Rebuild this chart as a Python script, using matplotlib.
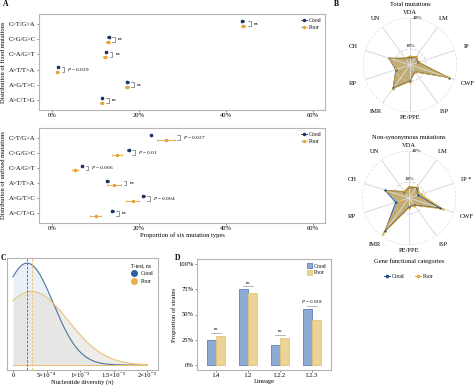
import numpy as np
import matplotlib
matplotlib.use("Agg")
import matplotlib.pyplot as plt
from matplotlib.lines import Line2D

plt.rcParams['font.family'] = ['Liberation Serif', 'DejaVu Serif']
plt.rcParams['mathtext.fontset'] = 'custom'
plt.rcParams['mathtext.rm'] = 'Liberation Serif'
plt.rcParams['mathtext.it'] = 'Liberation Serif:italic'

# ---------------- data ----------------
mut_types = ["C>T/G>A", "C>G/G>C", "C>A/G>T", "A>T/T>A", "A>G/T>C", "A>C/T>G"]
fixed_good = [43.8, 13.0, 12.4, 1.4, 17.3, 11.5]
fixed_good_err = [0.3, 0.3, 0.3, 0.2, 0.3, 0.3]
fixed_poor = [44.0, 12.9, 12.2, 1.2, 17.2, 11.4]
fixed_poor_err = [0.5, 0.4, 0.4, 0.3, 0.4, 0.4]
fixed_sig = ["ns", "ns", "ns", "$P$ = 0.029", "ns", "ns"]

unfixed_good = [22.8, 17.6, 6.9, 12.7, 21.0, 13.9]
unfixed_good_err = [0.3, 0.3, 0.2, 0.3, 0.3, 0.3]
unfixed_poor = [26.2, 15.0, 5.3, 14.3, 18.6, 10.0]
unfixed_poor_err = [2.0, 1.2, 0.7, 1.6, 1.5, 1.2]
unfixed_sig = ["$P$ = 0.027", "$P$ = 0.01", "$P$ = 0.006", "ns", "$P$ = 0.004", "ns"]

func_cats = ["VDA", "LM", "IP", "CWF", "ISP", "PE/PPE", "IMR", "RP", "CH", "UN"]
func_cats_ns = ["VDA", "LM", "IP *", "CWF", "ISP", "PE/PPE", "IMR", "RP", "CH", "UN"]
total_good = [2.5, 4.0, 3.0, 34.0, 2.5, 10.0, 22.0, 9.0, 16.0, 2.5]
total_poor = [3.0, 4.5, 3.5, 33.0, 3.0, 10.5, 23.0, 8.5, 15.5, 3.0]
nonsyn_good = [5.0, 7.0, 4.0, 26.0, 3.0, 3.5, 34.0, 8.0, 19.0, 2.0]
nonsyn_poor = [5.5, 7.5, 6.5, 29.0, 3.5, 4.0, 37.0, 4.0, 17.0, 2.5]

div_groups = ["Good", "Poor"]
div_mean = [0.21e-3, 0.28e-3]
div_sd = [0.39e-3, 0.54e-3]
div_ticks = [0, 5e-4, 1e-3, 1.5e-3, 2e-3]
div_ticklabels = ["0", "5×10⁻⁴", "1×10⁻³", "1.5×10⁻³", "2×10⁻³"]

lineages = ["L4", "L2", "L2.2", "L2.3"]
good_prop = [25.2, 74.8, 19.4, 55.0]
poor_prop = [29.0, 71.8, 27.0, 44.6]
lineage_sig = ["ns", "ns", "ns", "$P$ = 0.038"]

# ---------------- style ----------------
W, H = 474, 387
fig = plt.figure(figsize=(W / 100, H / 100), dpi=100)
NAVY = '#1d3461'
ORANGE = '#e8a43a'
SPINE = '#b5b5b5'
FS = 4.7


def rect(l, t, r, b):
    return [l / W, 1 - b / H, (r - l) / W, (b - t) / H]


def style_box(ax):
    for s in ax.spines.values():
        s.set_color(SPINE)
        s.set_linewidth(0.8)
    ax.tick_params(length=1.5, width=0.5, color='#555555', labelsize=FS, pad=1)


def panel_A(ax, good, gerr, poor, perr, sig, ylabel):
    y = np.arange(len(mut_types))
    off = 0.16
    ax.errorbar(good, y - off, xerr=gerr, fmt='o', color=NAVY, ms=1.6,
                elinewidth=0.6, capsize=1.0, capthick=0.5)
    ax.errorbar(poor, y + off, xerr=perr, fmt='o', color=ORANGE, ms=1.6,
                elinewidth=0.6, capsize=1.0, capthick=0.5)
    for i in range(len(mut_types)):
        xb = max(good[i] + gerr[i], poor[i] + perr[i]) + 1.2
        ax.plot([xb - 0.6, xb, xb, xb - 0.6], [i - off, i - off, i + off, i + off],
                color='#444444', lw=0.4)
        ax.text(xb + 0.7, i, sig[i], fontsize=3.8, va='center', ha='left')
    ax.set_yticks(y)
    ax.set_yticklabels(mut_types)
    ax.set_ylim(len(mut_types) - 0.35, -0.65)
    ax.set_xlim(-3.0, 62.8)
    ax.set_xticks([0, 20, 40, 60])
    ax.set_xticklabels(["0%", "20%", "40%", "60%"])
    ax.set_ylabel(ylabel, fontsize=FS, labelpad=2)
    style_box(ax)
    h = [Line2D([0], [0], color=NAVY, marker='o', ms=1.5, lw=0.6),
         Line2D([0], [0], color=ORANGE, marker='o', ms=1.5, lw=0.6)]
    ax.legend(h, ["Good", "Poor"], loc='upper right', fontsize=4, frameon=False,
              handlelength=1.0, handletextpad=0.3, labelspacing=0.4,
              borderaxespad=0.3)


axA1 = fig.add_axes(rect(39, 14, 325, 110))
panel_A(axA1, fixed_good, fixed_good_err, fixed_poor, fixed_poor_err, fixed_sig,
        "Distribution of fixed mutations")
axA2 = fig.add_axes(rect(39, 128, 325, 223))
panel_A(axA2, unfixed_good, unfixed_good_err, unfixed_poor, unfixed_poor_err,
        unfixed_sig, "Distribution of unfixed mutations")
axA2.set_xlabel("Proportion of six mutation types", fontsize=FS, labelpad=1)

# ---------------- B: radar ----------------
RMIN, RMAX = -5.5, 40
BLUE_R = '#22508a'
YEL_R = '#e3a92a'
label_r = [45.5, 50.5, 52.5, 53.0, 50.5, 45.5, 50.5, 52.5, 52.5, 50.5]


def radar(cx, cy, good, poor, labels, title):
    R = 47
    ax = fig.add_axes(rect(cx - R, cy - R, cx + R, cy + R), projection='polar')
    ax.set_theta_zero_location('N')
    ax.set_theta_direction(-1)
    ax.set_ylim(RMIN, RMAX)
    ax.set_xticks([])
    ax.set_yticks([])
    ax.grid(False)
    ax.spines['polar'].set_visible(False)
    ax.patch.set_alpha(0)
    n = len(labels)
    ang = np.arange(n) * 2 * np.pi / n
    th = np.linspace(0, 2 * np.pi, 300)
    for rr in (10, 40):
        ax.plot(th, np.full_like(th, rr), ls=(0, (3, 2)), color='#c9c9c9', lw=0.6)
    for a in ang:
        ax.plot([a, a], [RMIN, RMAX], color='#d9d9d9', lw=0.7)
    ac = np.append(ang, ang[0])
    g = np.append(good, good[0])
    p = np.append(poor, poor[0])
    ax.fill(ac, g, color=BLUE_R, alpha=0.45, lw=0)
    ax.fill(ac, p, color=YEL_R, alpha=0.55, lw=0)
    ax.plot(ac, g, color=BLUE_R, lw=0.6)
    ax.plot(ac, p, color=YEL_R, lw=0.6)
    ax.scatter(ang, good, s=3, color=BLUE_R, zorder=5, lw=0)
    ax.scatter(ang, poor, s=3, color=YEL_R, zorder=5, lw=0)
    for a, lab, lr in zip(ang, labels, label_r):
        ax.text(a, lr, lab, ha='center', va='center', fontsize=FS, clip_on=False)
    ax.text(0.06, 40, "40%", ha='left', va='center', fontsize=3.8)
    ax.text(0.0, 10.5, "10%", ha='center', va='bottom', fontsize=3.8)
    fig.text(cx / W, 1 - (cy - 61) / H, title, ha='center', va='center', fontsize=FS)
    return ax


radar(410, 65, total_good, total_poor, func_cats, "Total mutations")
radar(409, 198, nonsyn_good, nonsyn_poor, func_cats_ns, "Non-synonymous mutations")
fig.text(409 / W, 1 - 261 / H, "Gene functional categories", ha='center', va='center',
         fontsize=FS)
hb = [Line2D([0], [0], color=BLUE_R, marker='o', ms=1.6, lw=0.7),
      Line2D([0], [0], color=YEL_R, marker='o', ms=1.6, lw=0.7)]
fig.legend(hb, ["Good", "Poor"], loc='center', bbox_to_anchor=(409 / W, 1 - 276 / H),
           ncol=2, fontsize=4, frameon=False, handlelength=1.0, handletextpad=0.4,
           columnspacing=2.0)

# ---------------- C: density ----------------
axC = fig.add_axes(rect(7, 258, 158, 370))
xs = np.linspace(0, 2e-3, 400)
line_cols = ['#52739c', '#e9c27a']
fill_cols = ['#dbe6f1', '#e6e4df']
dots = ['#2b5ea2', '#e6ae4a']
peaks = []
dens_list = []
for m, s in zip(div_mean, div_sd):
    d = np.exp(-0.5 * ((xs - m) / s) ** 2) / (s * np.sqrt(2 * np.pi))
    dens_list.append(d)
    peaks.append(1 / (s * np.sqrt(2 * np.pi)))
axC.fill_between(xs, 0, dens_list[0], color=fill_cols[0], alpha=0.6, lw=0)
axC.fill_between(xs, 0, dens_list[1], color=fill_cols[1], alpha=0.7, lw=0)
for d, c in zip(dens_list, line_cols):
    axC.plot(xs, d, color=c, lw=0.8)
axC.plot([0, 2e-3], [0, 0], color=line_cols[1], lw=0.8)
for m, c in zip(div_mean, line_cols):
    axC.axvline(m, color=c, ls=(0, (2.5, 1.5)), lw=0.7)
pk = max(peaks)
axC.set_ylim(-0.048 * pk, 1.05 * pk)
axC.set_xlim(-0.09e-3, 2.16e-3)
axC.set_yticks([])
axC.set_xticks(div_ticks)
axC.set_xticklabels(div_ticklabels)
axC.set_xlabel("Nucleotide diversity (π)", fontsize=FS, labelpad=0.3)
style_box(axC)
hc = [Line2D([0], [0], color=dots[0], marker='o', ms=4, lw=0),
      Line2D([0], [0], color=dots[1], marker='o', ms=4, lw=0)]
axC.legend(hc, div_groups, title="T-test, ns", loc='upper right', fontsize=4,
           title_fontsize=4, frameon=False, handletextpad=0.1, labelspacing=0.5,
           borderaxespad=0.5)

# ---------------- D: bars ----------------
axD = fig.add_axes(rect(197, 259, 331, 370))
xd = np.arange(len(lineages))
bw = 0.27
axD.bar(xd - 0.14, good_prop, bw, color='#8eabd3', edgecolor='#5b80b6', lw=0.6,
        label="Good")
axD.bar(xd + 0.14, poor_prop, bw, color='#ecd496', edgecolor='#e3c679', lw=0.6,
        label="Poor")
for i in range(len(lineages)):
    top = max(good_prop[i], poor_prop[i]) + 3
    axD.plot([i - 0.15, i + 0.15], [top, top], color='#999999', lw=0.5)
    axD.text(i, top + 1.2, lineage_sig[i], ha='center', va='bottom', fontsize=3.6)
axD.set_xlim(-0.6, len(lineages) - 0.4)
axD.set_ylim(-5, 105)
axD.set_xticks(xd)
axD.set_xticklabels(lineages)
axD.set_yticks([0, 25, 50, 75, 100])
axD.set_yticklabels(["0%", "25%", "50%", "75%", "100%"])
axD.set_xlabel("Lineage", fontsize=FS, labelpad=0.3)
axD.set_ylabel("Proportion of strains", fontsize=FS, labelpad=1)
style_box(axD)
axD.legend(loc='upper right', fontsize=4, frameon=False, handlelength=1.0,
           handleheight=1.0, handletextpad=0.3, labelspacing=0.2, borderaxespad=0.4)

# ---------------- panel labels ----------------
for lab, x, y in [("A", 3, 4), ("B", 334, 4), ("C", 1, 258), ("D", 175, 258)]:
    fig.text(x / W, 1 - y / H, lab, fontsize=5.5, fontweight='bold', ha='left', va='center')

fig.savefig("out.png", dpi=100)
